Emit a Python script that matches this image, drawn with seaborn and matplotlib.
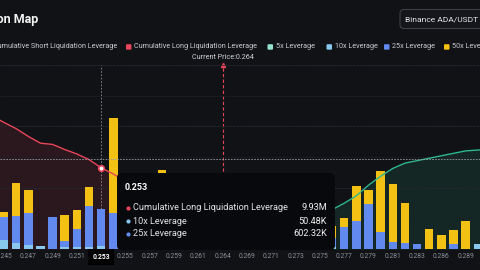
import numpy as np
import pandas as pd
import matplotlib
matplotlib.use("Agg")
import matplotlib.pyplot as plt
from matplotlib.patches import FancyBboxPatch
import seaborn as sns

# ---- data ----
# one bar per price level; first and last level sit just outside the visible window
prices = ["0.244", "0.245", "0.246", "0.247", "0.248", "0.249", "0.250", "0.251", "0.252", "0.253",
          "0.254", "0.255", "0.256", "0.257", "0.258", "0.259", "0.260", "0.261", "0.262", "0.264",
          "0.267", "0.269", "0.270", "0.271", "0.272", "0.273", "0.274", "0.275", "0.276", "0.277",
          "0.278", "0.279", "0.280", "0.281", "0.282", "0.283", "0.285", "0.286", "0.288", "0.289",
          "0.290", "0.291"]

# liquidation leverage per level, in K
lev_5x = [0, 0, 0, 0, 0, 0, 0, 0, 0, 0,
          0, 0, 0, 0, 0, 10, 0, 0, 0, 0,
          0, 0, 0, 0, 5, 0, 0, 0, 0, 0,
          0, 0, 0, 0, 0, 0, 0, 0, 0, 0,
          0, 0]
lev_10x = [0, 147, 98, 65, 49, 0, 33, 33, 33, 50.48,
           0, 20, 15, 25, 25, 20, 10, 20, 0, 0,
           0, 0, 10, 15, 20, 15, 20, 10, 33, 0,
           0, 0, 0, 0, 0, 0, 0, 0, 0, 0,
           82, 0]
lev_25x = [0, 375, 440, 522, 0, 522, 98, 293, 668, 602.32,
           587, 300, 180, 420, 465, 120, 60, 40, 0, 0,
           0, 30, 80, 150, 210, 260, 320, 190, 150, 359,
           456, 734, 277, 114, 98, 82, 0, 0, 82, 0,
           0, 0]
lev_50x = [0, 82, 538, 375, 0, 0, 424, 310, 310, 0,
           1550, 450, 260, 380, 800, 210, 90, 0, 0, 0,
           0, 0, 60, 120, 340, 180, 410, 230, 200, 147,
           571, 228, 994, 945, 652, 0, 326, 228, 228, 456,
           0, 0]

# cumulative liquidation leverage, in M (None where the line is not drawn)
cum_long = [16.3, 15.47, 14.72, 13.77, 12.94, 12.79, 12.17, 11.62, 10.93, 9.93,
            9.17, 8.3, 7.6, 6.5, 5.2, 4.3, 3.5, 2.6, 1.5, 0.0] + [None] * 22
cum_short = [None] * 19 + [0.0, 0.3, 0.7, 1.1, 1.6, 2.2, 2.9, 3.6, 4.2, 4.8,
                           5.6, 6.5, 7.8, 8.9, 9.85, 10.5, 10.8, 11.1, 11.4, 11.7,
                           12.0, 12.1, 12.2]

current_price = "0.264"
hover_price = "0.253"
crosshair_m = 11.0

legend_labels = ["Cumulative Long Liquidation Leverage", "5x Leverage", "10x Leverage",
                 "25x Leverage", "50x Leverage"]

# colours
bg = "#101216"
red = "#e8455a"
green = "#2fb88e"
c5 = "#94e3cf"
c10 = "#88c8ef"
c25 = "#6189ee"
c50 = "#f3c114"

df = pd.DataFrame({"price": prices, "x5": lev_5x, "x10": lev_10x, "x25": lev_25x,
                   "x50": lev_50x, "cum_long": cum_long, "cum_short": cum_short})
df["pos"] = np.arange(len(df))
df["cum_long"] = df["cum_long"].astype(float)
df["cum_short"] = df["cum_short"].astype(float)
# stacked tops
df["t5"] = df["x5"]
df["t10"] = df["t5"] + df["x10"]
df["t25"] = df["t10"] + df["x25"]
df["t50"] = df["t25"] + df["x50"]

cur_pos = prices.index(current_price)
hov_pos = prices.index(hover_price)

sns.set_theme(style="dark")
plt.rcParams["font.family"] = ["Roboto", "DejaVu Sans"]

fig = plt.figure(figsize=(4.8, 2.7), dpi=100, facecolor=bg)
ax = fig.add_axes([0, 21 / 270, 1, 184 / 270])
ax.set_facecolor(bg)
ax_bar = ax.twinx()
ax_line = ax.twinx()

# filled areas under the cumulative lines
ax.fill_between(df["pos"], df["cum_long"], color=red, alpha=0.13, lw=0)
ax.fill_between(df["pos"], df["cum_short"], color=green, alpha=0.13, lw=0)
ax.set_ylim(0, 22.5)
ax.set_yticks([7.5, 15, 22.5])
ax.grid(axis="y", color="#3b3e46", lw=0.6, ls=(0, (2.5, 2)))
ax.grid(axis="x", visible=False)
ax.axvline(cur_pos, color=red, lw=0.8, ls=(0, (3, 2)))
ax.axvline(hov_pos, color="#8c8f95", lw=0.6, ls=(0, (2, 2)))

# stacked bars, drawn tallest first
for col, color in [("t50", c50), ("t25", c25), ("t10", c10), ("t5", c5)]:
    sns.barplot(data=df, x="price", y=col, order=prices, color=color, saturation=1,
                width=0.7, errorbar=None, linewidth=0, ax=ax_bar)
ax_bar.set_ylim(0, 3000)
ax_bar.set_yticks(range(500, 3001, 500))
ax_bar.grid(axis="y", color="#1d2026", lw=0.5)
ax_bar.grid(axis="x", visible=False)

# cumulative lines
sns.lineplot(data=df, x="pos", y="cum_long", color=red, lw=1.0, errorbar=None, ax=ax_line)
sns.lineplot(data=df, x="pos", y="cum_short", color=green, lw=1.0, errorbar=None, ax=ax_line)
ax_line.set_ylim(0, 22.5)
ax_line.axhline(crosshair_m, color="#9a9da3", lw=0.6, ls=(0, (2, 1.5)))
ax_line.scatter([hov_pos], [df["cum_long"][hov_pos]], s=16, facecolor="white",
                edgecolor=red, lw=1.2, zorder=5)
ax_line.grid(False)

for a in (ax, ax_bar, ax_line):
    for s in a.spines.values():
        s.set_visible(False)
    a.set_xlabel("")
    a.set_ylabel("")
    a.tick_params(axis="y", left=False, right=False, labelleft=False, labelright=False)
ax_bar.patch.set_alpha(0)
ax_line.patch.set_alpha(0)

ax.set_xlim(0.671, 40.18)
tick_pos = list(range(1, 41, 2))
tick_lab = [prices[p] if p != hov_pos else "" for p in tick_pos]
ax.set_xticks(tick_pos, tick_lab)
ax.tick_params(axis="x", length=0, pad=3, labelsize=4.9, colors="#8b8f97")

# highlighted price under the crosshair
ax.text(hov_pos, -0.0435, hover_price, transform=ax.get_xaxis_transform(), ha="center",
        va="center", fontsize=4.9, color="white", fontweight="bold",
        bbox=dict(facecolor="black", edgecolor="none", boxstyle="square,pad=0.65"))

# current price marker
ax.plot([cur_pos], [1.0], marker="^", ms=3, color=red, transform=ax.get_xaxis_transform(),
        clip_on=False)
ax.text(cur_pos, 1.043, "Current Price:" + current_price, transform=ax.get_xaxis_transform(),
        ha="center", va="center", fontsize=5.2, color="#d0d3d8")

# overlay in pixel coordinates for header, legend and tooltip
ov = fig.add_axes([0, 0, 1, 1])
ov.set_xlim(0, 480)
ov.set_ylim(270, 0)
ov.axis("off")

ov.text(38.5, 19, "Liquidation Map", ha="right", va="center", fontsize=9,
        fontweight="bold", color="#f2f2f2")
ov.add_patch(FancyBboxPatch((400, 9.5), 100, 19, boxstyle="round,pad=0,rounding_size=4",
                            fc="#14161b", ec="#3c3f46", lw=0.8))
ov.text(405, 19, "Binance ADA/USDT", ha="left", va="center", fontsize=6, color="#e6e6e6")

# legend
ov.text(117.5, 47, "Cumulative Short Liquidation Leverage", ha="right", va="center",
        fontsize=5.2, color="#c8cbd0")
for lab, color, x0 in zip(legend_labels, [red, c5, c10, c25, c50], [126, 267.5, 326.5, 384, 444]):
    ov.add_patch(FancyBboxPatch((x0, 44.2), 5.5, 5.5, boxstyle="round,pad=0,rounding_size=1",
                                fc=color, ec="none"))
    ov.text(x0 + 8.5, 47, lab, ha="left", va="center", fontsize=5.2, color="#c8cbd0")

# tooltip
ov.add_patch(FancyBboxPatch((117, 173), 218, 77, boxstyle="round,pad=0,rounding_size=5",
                            fc="#08090c", ec="none"))
ov.text(125, 188, hover_price, ha="left", va="center", fontsize=6.5, fontweight="bold",
        color="white")
rows = [(red, "Cumulative Long Liquidation Leverage", f"{df['cum_long'][hov_pos]:.2f}M"),
        (c10, "10x Leverage", f"{lev_10x[hov_pos]:.2f}K"),
        (c25, "25x Leverage", f"{lev_25x[hov_pos]:.2f}K")]
for (color, lab, val), y in zip(rows, [208, 221, 234]):
    ov.scatter([128], [y], s=9, color=color, lw=0)
    ov.text(133, y, lab, ha="left", va="center", fontsize=6.6, color="#e0e2e6")
    ov.text(327, y, val, ha="right", va="center", fontsize=6.6, color="#f0f0f0")

fig.savefig("out.png", dpi=100, facecolor=bg)
